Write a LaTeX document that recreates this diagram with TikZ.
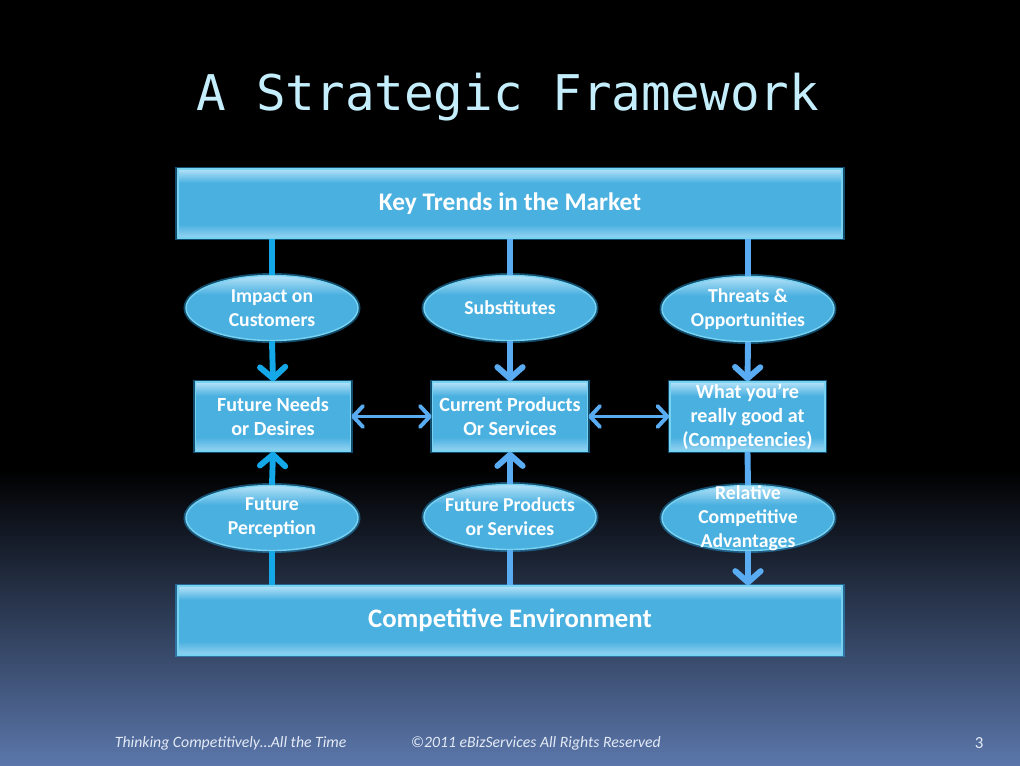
\documentclass[tikz,border=0pt]{standalone}
\usepackage{fontspec}
\setmainfont{Carlito}
\newfontfamily\titlefont{DejaVu Sans Mono}
\usetikzlibrary{arrows.meta,positioning,shapes.geometric}

\definecolor{boxmid}{RGB}{74,176,224}
\definecolor{boxlight}{RGB}{150,212,242}
\definecolor{boxtop}{RGB}{180,226,248}
\definecolor{boxedge}{RGB}{120,210,242}
\definecolor{glowcol}{RGB}{40,170,240}
\definecolor{linkcyan}{RGB}{20,168,232}
\definecolor{linkblue}{RGB}{90,172,242}
\definecolor{titlecol}{RGB}{196,238,252}
\definecolor{slatemid}{RGB}{30,37,56}
\definecolor{slatebot}{RGB}{90,118,170}
\definecolor{footcol}{RGB}{228,234,246}

\pgfdeclareverticalshading{boxshade}{100bp}{color(0bp)=(boxlight); color(25bp)=(boxlight);
  color(35bp)=(boxmid); color(65bp)=(boxmid); color(75bp)=(boxtop); color(100bp)=(boxtop)}
\pgfdeclareverticalshading{ovalshade}{100bp}{color(0bp)=(boxmid); color(25bp)=(boxmid);
  color(60bp)=(boxmid); color(75bp)=(boxtop); color(100bp)=(boxtop)}

\begin{document}
\begin{tikzpicture}[
x=0.025cm, y=-0.025cm,
glow/.style={preaction={draw=glowcol, line width=3.5pt, opacity=0.45}},
bar/.style={draw=boxedge, line width=1pt, shade, shading=boxshade, glow, text=white,
  minimum width=16.6cm, minimum height=1.725cm, font=\fontsize{18}{22}\selectfont\bfseries},
card/.style={draw=boxedge, line width=1pt, shade, shading=boxshade, glow, text=white,
  minimum width=3.875cm, minimum height=1.725cm, inner sep=0pt, align=center,
  font=\fontsize{14.3}{17}\selectfont\bfseries},
oval/.style={ellipse, draw=boxedge, line width=1pt, shade, shading=ovalshade, glow,
  minimum width=4.3cm, minimum height=1.625cm, inner sep=0pt},
ovaltext/.style={text=white, align=center, font=\fontsize{14}{17}\selectfont\bfseries},
feed/.style={line width=4.2pt, -{Straight Barb[length=8pt, width=18pt, round]}},
link/.style={line width=2.8pt, linkblue,
  {Straight Barb[length=7pt, width=15pt, round]}-{Straight Barb[length=7pt, width=15pt, round]}},
foot/.style={text=footcol, font=\fontsize{11.2}{13}\selectfont\itshape, anchor=base west}
]
% backdrop
\fill[black] (0,0) rectangle (1020,765);
\shade[top color=black, middle color=slatemid, bottom color=slatebot] (0,470) rectangle (1020,765);
\useasboundingbox (0,0) rectangle (1020,765);

\node[font=\titlefont\fontsize{35}{40}\selectfont, text=titlecol] (title) at (508,97) {A Strategic Framework};

\node[bar] (trends) at (510,203.5) {Key Trends in the Market};
\node[bar, font=\fontsize{19}{22}\selectfont\bfseries] (environ) at (510,620.5) {Competitive Environment};

\node[oval, label={[ovaltext]center:Impact on\\Customers}] (impact) at (272,308) {};
\node[oval, label={[ovaltext]center:Substitutes}] (subst) at (510,308) {};
\node[oval, label={[ovaltext]center:Threats \&\\Opportunities}] (threats) at (748,309) {};

\node[card] (needs) at (273,416.5) {Future Needs\\or Desires};
\node[card] (current) at (510,416.5) {Current Products\\Or Services};
\node[card] (compet) at (747.5,416.5) {What you're\\really good at\\(Competencies)};

\node[oval, label={[ovaltext]center:Future\\Perception}] (percep) at (272,518) {};
\node[oval, label={[ovaltext]center:Future Products\\or Services}] (futprod) at (510,517) {};
\node[oval, label={[ovaltext]center:Relative\\Competitive\\Advantages}] (relative) at (748,518) {};

% trends feed down
\draw[line width=4.2pt, linkcyan] (trends.south -| impact.north) -- (impact.north);
\draw[feed, linkcyan] (impact.south) -- (needs.north);
\draw[line width=4.2pt, linkblue] (trends.south -| subst.north) -- (subst.north);
\draw[feed, linkblue] (subst.south) -- (current.north);
\draw[line width=4.2pt, linkblue] (trends.south -| threats.north) -- (threats.north);
\draw[feed, linkblue] (threats.south) -- (compet.north);

% environment feeds up
\draw[line width=4.2pt, linkcyan] (environ.north -| percep.south) -- (percep.south);
\draw[feed, linkcyan] (percep.north) -- (needs.south);
\draw[line width=4.2pt, linkblue] (environ.north -| futprod.south) -- (futprod.south);
\draw[feed, linkblue] (futprod.north) -- (current.south);

% competencies down to environment
\draw[line width=4.2pt, linkblue] (compet.south) -- (relative.north);
\draw[feed, linkblue] (relative.south) -- (relative.south |- environ.north);

\draw[link] (needs.east) -- (current.west);
\draw[link] (current.east) -- (compet.west);

\node[foot] (tagline) at (110,747) {Thinking Competitively…All the Time};
\node[foot] (rights) at (406,747) {©2011 eBizServices All Rights Reserved};
\node[foot, font=\fontsize{12}{13}\selectfont] (page) at (970,748) {3};
\end{tikzpicture}
\end{document}
